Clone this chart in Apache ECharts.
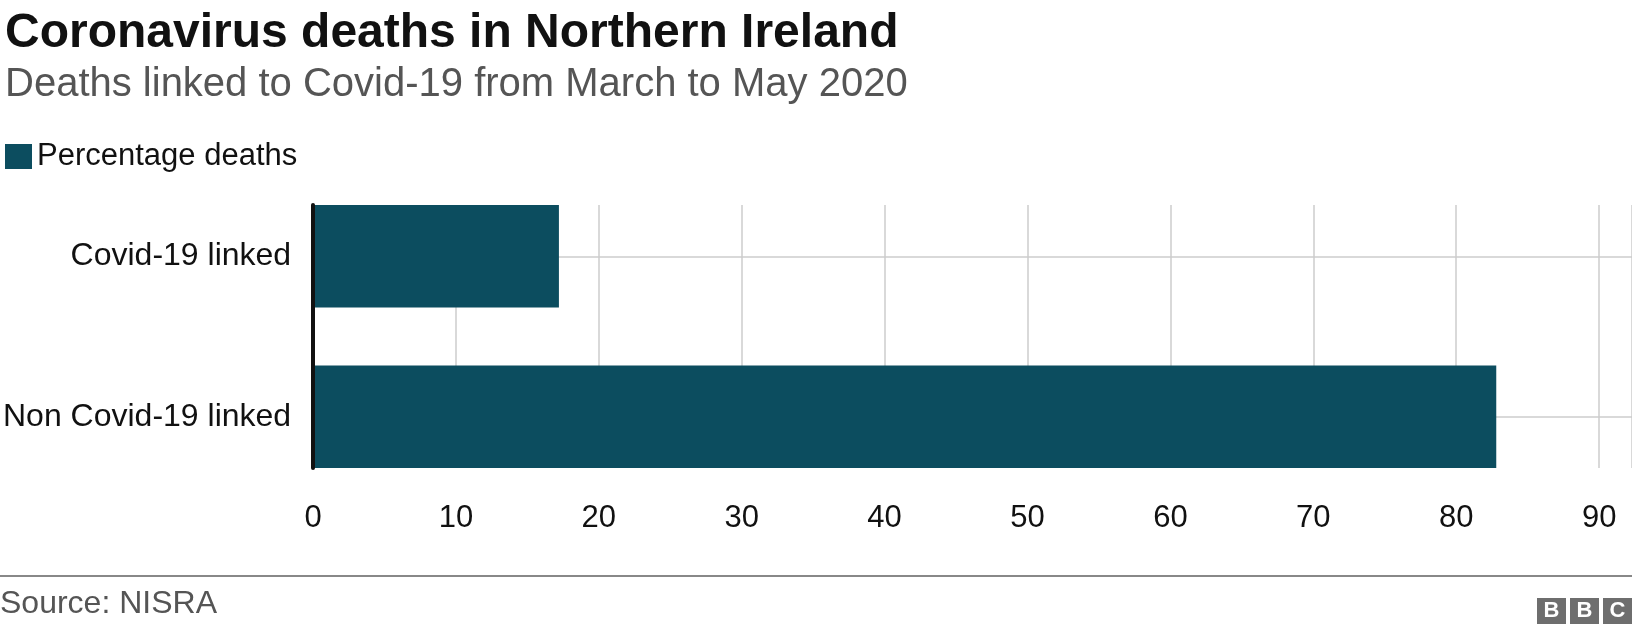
<!DOCTYPE html>
<html><head><meta charset="utf-8">
<script src="https://cdn.jsdelivr.net/npm/echarts@6/dist/echarts.min.js"></script>
<style>html,body{margin:0;padding:0;background:#fff}#c{width:1632px;height:632px}</style>
</head><body><div id="c"></div>
<script>
const categories = ["Non Covid-19 linked", "Covid-19 linked"];
const percentages = [82.8, 17.2];
const xTicks = [0, 10, 20, 30, 40, 50, 60, 70, 80, 90];

const font = "Liberation Sans, Arial, sans-serif";
const chart = echarts.init(document.getElementById("c"));

const bbc = ["B", "B", "C"].map((t, i) => ({
    type: "group", right: 0 + (2 - i) * 33, bottom: 8,
    children: [
        { type: "rect", shape: { x: 0, y: 0, width: 29, height: 26 }, style: { fill: "#6e6e6e" } },
        { type: "text", x: 14.5, y: 13, style: { text: t, fill: "#fff", font: "bold 22px " + font, align: "center", verticalAlign: "middle" } }
    ]
}));

const xMax = 92.3;

chart.setOption({
    animation: false,
    textStyle: { fontFamily: font },
    title: [
        { text: "Coronavirus deaths in Northern Ireland", left: 0, top: 5, textStyle: { fontSize: 48, fontWeight: "bold", color: "#111" } },
        { text: "Deaths linked to Covid-19 from March to May 2020", left: 0, top: 60, textStyle: { fontSize: 40, fontWeight: "normal", color: "#555" } }
    ],
    legend: {
        left: 0, top: 136, itemWidth: 27, itemHeight: 25, itemGap: 10, icon: "rect",
        textStyle: { fontSize: 31, color: "#111" }
    },
    grid: [
        { left: 313, right: 0, top: 205, bottom: 164 },
        { left: 313, right: 0, top: 176, bottom: 135 }
    ],
    xAxis: [
        {
            type: "value", gridIndex: 0, min: 0, max: xMax, interval: 10,
            axisLine: { show: false }, axisTick: { show: false },
            axisLabel: { fontSize: 31, color: "#111", margin: 35, showMaxLabel: false },
            splitLine: { lineStyle: { color: "#cccccc", width: 1.5 } }
        },
        { type: "value", gridIndex: 1, min: 0, max: xMax, show: false, splitLine: { show: false } }
    ],
    yAxis: [
        {
            type: "category", gridIndex: 0, data: categories, zlevel: 2,
            axisLine: { lineStyle: { color: "#111", width: 4 } }, axisTick: { show: false },
            axisLabel: { show: false }
        },
        {
            type: "category", gridIndex: 1, data: categories,
            axisLine: { show: false }, axisTick: { show: false },
            axisLabel: { fontSize: 32, color: "#111", margin: 22 }
        }
    ],
    series: [
        {
            type: "line", xAxisIndex: 1, yAxisIndex: 1, data: [], silent: true,
            markLine: {
                symbol: "none", silent: true, label: { show: false },
                lineStyle: { color: "#cccccc", width: 1.5, type: "solid" },
                data: categories.map(c => ({ yAxis: c }))
            }
        },
        {
            name: "Percentage deaths", type: "bar", xAxisIndex: 1, yAxisIndex: 1,
            data: percentages, zlevel: 1,
            barCategoryGap: "36%", itemStyle: { color: "#0c4d5f" }
        }
    ],
    graphic: [
        { type: "line", shape: { x1: 0, y1: 576, x2: 1632, y2: 576 }, style: { stroke: "#888", lineWidth: 2 } },
        { type: "text", left: 0, top: 588, style: { text: "Source: NISRA", font: "32px " + font, fill: "#555" } },
        ...bbc
    ]
});
</script></body></html>
